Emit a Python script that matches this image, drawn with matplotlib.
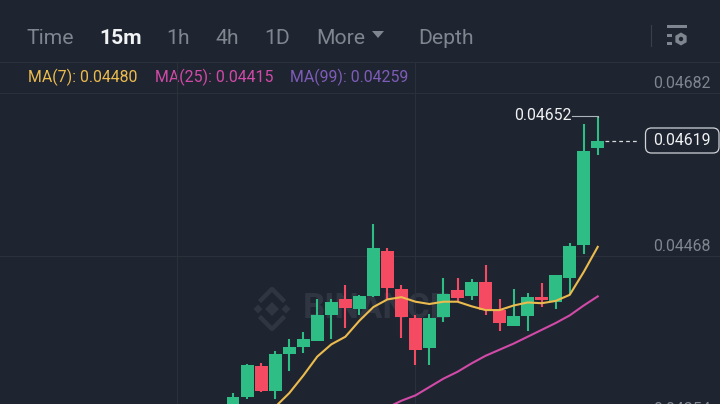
import matplotlib
matplotlib.use("Agg")
import matplotlib.pyplot as plt
from matplotlib.patches import FancyBboxPatch, Polygon, RegularPolygon, Circle, Rectangle

# OHLC values, one entry per 15m candle
opens = [0.04268, 0.04283, 0.04323, 0.04291, 0.04339, 0.04348, 0.04356, 0.04391, 0.04411,
         0.04399, 0.04415, 0.04475, 0.04425, 0.04387, 0.04347, 0.04388, 0.04424, 0.04415,
         0.04434, 0.04397, 0.04376, 0.04389, 0.04414, 0.04408, 0.04439, 0.04483, 0.04610]
highs = [0.04288, 0.04326, 0.04327, 0.04343, 0.04359, 0.04368, 0.04412, 0.04411, 0.04430,
         0.04417, 0.04510, 0.04478, 0.04430, 0.04390, 0.04392, 0.04439, 0.04439, 0.04438,
         0.04456, 0.04411, 0.04425, 0.04419, 0.04433, 0.04443, 0.04485, 0.04641, 0.04652]
lows = [0.04263, 0.04280, 0.04290, 0.04280, 0.04317, 0.04341, 0.04356, 0.04359, 0.04373,
        0.04391, 0.04414, 0.04412, 0.04361, 0.04325, 0.04325, 0.04382, 0.04408, 0.04410,
        0.04391, 0.04369, 0.04376, 0.04369, 0.04401, 0.04398, 0.04417, 0.04470, 0.04600]
closes = [0.04283, 0.04325, 0.04291, 0.04339, 0.04348, 0.04359, 0.04390, 0.04407, 0.04400,
          0.04415, 0.04478, 0.04426, 0.04388, 0.04344, 0.04386, 0.04418, 0.04413, 0.04434,
          0.04397, 0.04380, 0.04389, 0.04414, 0.04410, 0.04443, 0.04481, 0.04606, 0.04619]

# moving averages, starting at candle 3 and candle 11
ma7 = [0.04270, 0.04288, 0.04311, 0.04336, 0.04352, 0.04362, 0.04383, 0.04401, 0.04411,
       0.04414, 0.04408, 0.04405, 0.04408, 0.04408, 0.04402, 0.04397, 0.04397, 0.04403,
       0.04407, 0.04406, 0.04409, 0.04417, 0.04447, 0.04480]
ma25 = [0.04269, 0.04278, 0.04285, 0.04296, 0.04307, 0.04316, 0.04327, 0.04337, 0.04345,
        0.04353, 0.04362, 0.04371, 0.04380, 0.04390, 0.04403, 0.04415]

price_ticks = [0.04682, 0.04468, 0.04254]
grid_candles = [-4, 13]
high_label = 0.04652
last_price = 0.04619

tabs = ["Time", "15m", "1h", "4h", "1D", "More", "Depth"]
legend_labels = ["MA(7): 0.04480", "MA(25): 0.04415", "MA(99): 0.04259"]

BG = "#1f2530"
GRID = "#2b313b"
GREEN = "#2ebd85"
RED = "#f44a62"
YELLOW = "#ecbb4e"
PINK = "#d24aa8"
PURPLE = "#7e5cb8"
MUTED = "#7f8690"

plt.rcParams["font.family"] = ["Roboto", "DejaVu Sans"]

fig = plt.figure(figsize=(7.2, 4.04), dpi=100, facecolor=BG)

# background layer in pixel coordinates, for the app toolbar and watermark
ui = fig.add_axes([0, 0, 1, 1], zorder=0)
ui.set_xlim(0, 720)
ui.set_ylim(404, 0)
ui.axis("off")

# chart layer on top
ax = fig.add_axes([0, 0, 1, 1], zorder=1)
ax.patch.set_alpha(0)
ax.set_xlim(-16.63, 34.72)
ax.set_ylim(0.042737, 0.048041)
ax.axis("off")

# toolbar
tab_x = [26, 99.5, 166.5, 215, 264.5, 316.5, 418]
for i, label in enumerate(tabs):
    selected = label == "15m"
    ui.text(tab_x[i], 38.5, label, fontsize=15.2, va="center", ha="left",
            color="#f2f3f5" if selected else MUTED,
            fontweight="bold" if selected else "normal")
ui.add_patch(Polygon([(372, 31), (384, 31), (378, 38)], color=MUTED, lw=0))
ui.plot([651, 651], [25, 46], color="#3a404a", lw=0.8)

# settings icon
ui.add_patch(Rectangle((667, 25), 20, 2.5, color=MUTED, lw=0))
ui.add_patch(Rectangle((667, 34), 5, 2.5, color=MUTED, lw=0))
ui.add_patch(Rectangle((667, 42), 5, 2.5, color=MUTED, lw=0))
ui.add_patch(RegularPolygon((681, 39), 6, radius=6.5, color=MUTED, lw=0))
ui.add_patch(Circle((681, 39), 2.2, color=BG, lw=0))

# separator and legend
ui.plot([0, 720], [62, 62], color=GRID, lw=0.8)
for x, label, color in zip([28, 155, 290], legend_labels, [YELLOW, PINK, PURPLE]):
    ui.text(x, 77, label, fontsize=11.4, va="center", ha="left", color=color)

# watermark
WM = "#2f3541"
for cx, cy, r in [(272, 309, 7), (258, 309, 4.5), (286, 309, 4.5)]:
    ui.add_patch(Polygon([(cx - r, cy), (cx, cy - r), (cx + r, cy), (cx, cy + r)], color=WM, lw=0))
ui.plot([261, 272, 283], [300, 289, 300], color=WM, lw=3.2)
ui.plot([261, 272, 283], [318, 329, 318], color=WM, lw=3.2)
ui.text(303, 309, "BINANCE", fontsize=25, fontweight="bold", va="center", ha="left", color=WM)

# grid
for p in price_ticks:
    ax.axhline(p, color=GRID, lw=0.8, zorder=1)
for c in grid_candles:
    ax.axvline(c, ymin=0, ymax=0.847, color=GRID, lw=0.8, zorder=1)

# price labels, sitting just above their grid lines
for p in price_ticks:
    ax.annotate(f"{p:.5f}", xy=(711, p), xycoords=("figure pixels", "data"),
                xytext=(0, 7), textcoords="offset points", ha="right", va="center",
                fontsize=11.4, color=MUTED, annotation_clip=False)

# candles
xs = list(range(len(opens)))
for i in xs:
    color = GREEN if closes[i] >= opens[i] else RED
    ax.vlines(i, lows[i], highs[i], color=color, lw=1.5, zorder=3)
    ax.bar(i, abs(closes[i] - opens[i]), bottom=min(opens[i], closes[i]),
           width=0.9, color=color, lw=0, zorder=3)

ax.plot(xs[3:], ma7, color=YELLOW, lw=1.5, zorder=4)
ax.plot(xs[11:], ma25, color=PINK, lw=1.5, zorder=4)

# high marker with its leader line
last = xs[-1]
ax.plot([last - 1.85, last, last], [high_label, high_label, high_label - 0.00002],
        color="#aeb3ba", lw=0.8, zorder=4)
ax.text(last - 1.85, high_label, f"{high_label:.5f}", fontsize=11.4, color="#f0f1f3",
        ha="right", va="center", zorder=5)

# last price line and box
ax.plot([last + 0.5, last + 2.8], [last_price, last_price], color="#d8dadd", lw=0.9,
        ls=(0, (3, 2.5)), zorder=4)
ui.add_patch(FancyBboxPatch((645.5, 128), 73.5, 25, boxstyle="round,pad=0,rounding_size=6",
                            fc=BG, ec="#d0d3d8", lw=0.9))
ax.annotate(f"{last_price:.5f}", xy=(682, last_price), xycoords=("figure pixels", "data"),
            ha="center", va="center", fontsize=11.4, color="#f0f1f3", zorder=5)

fig.savefig("out.png", dpi=100, facecolor=BG)
